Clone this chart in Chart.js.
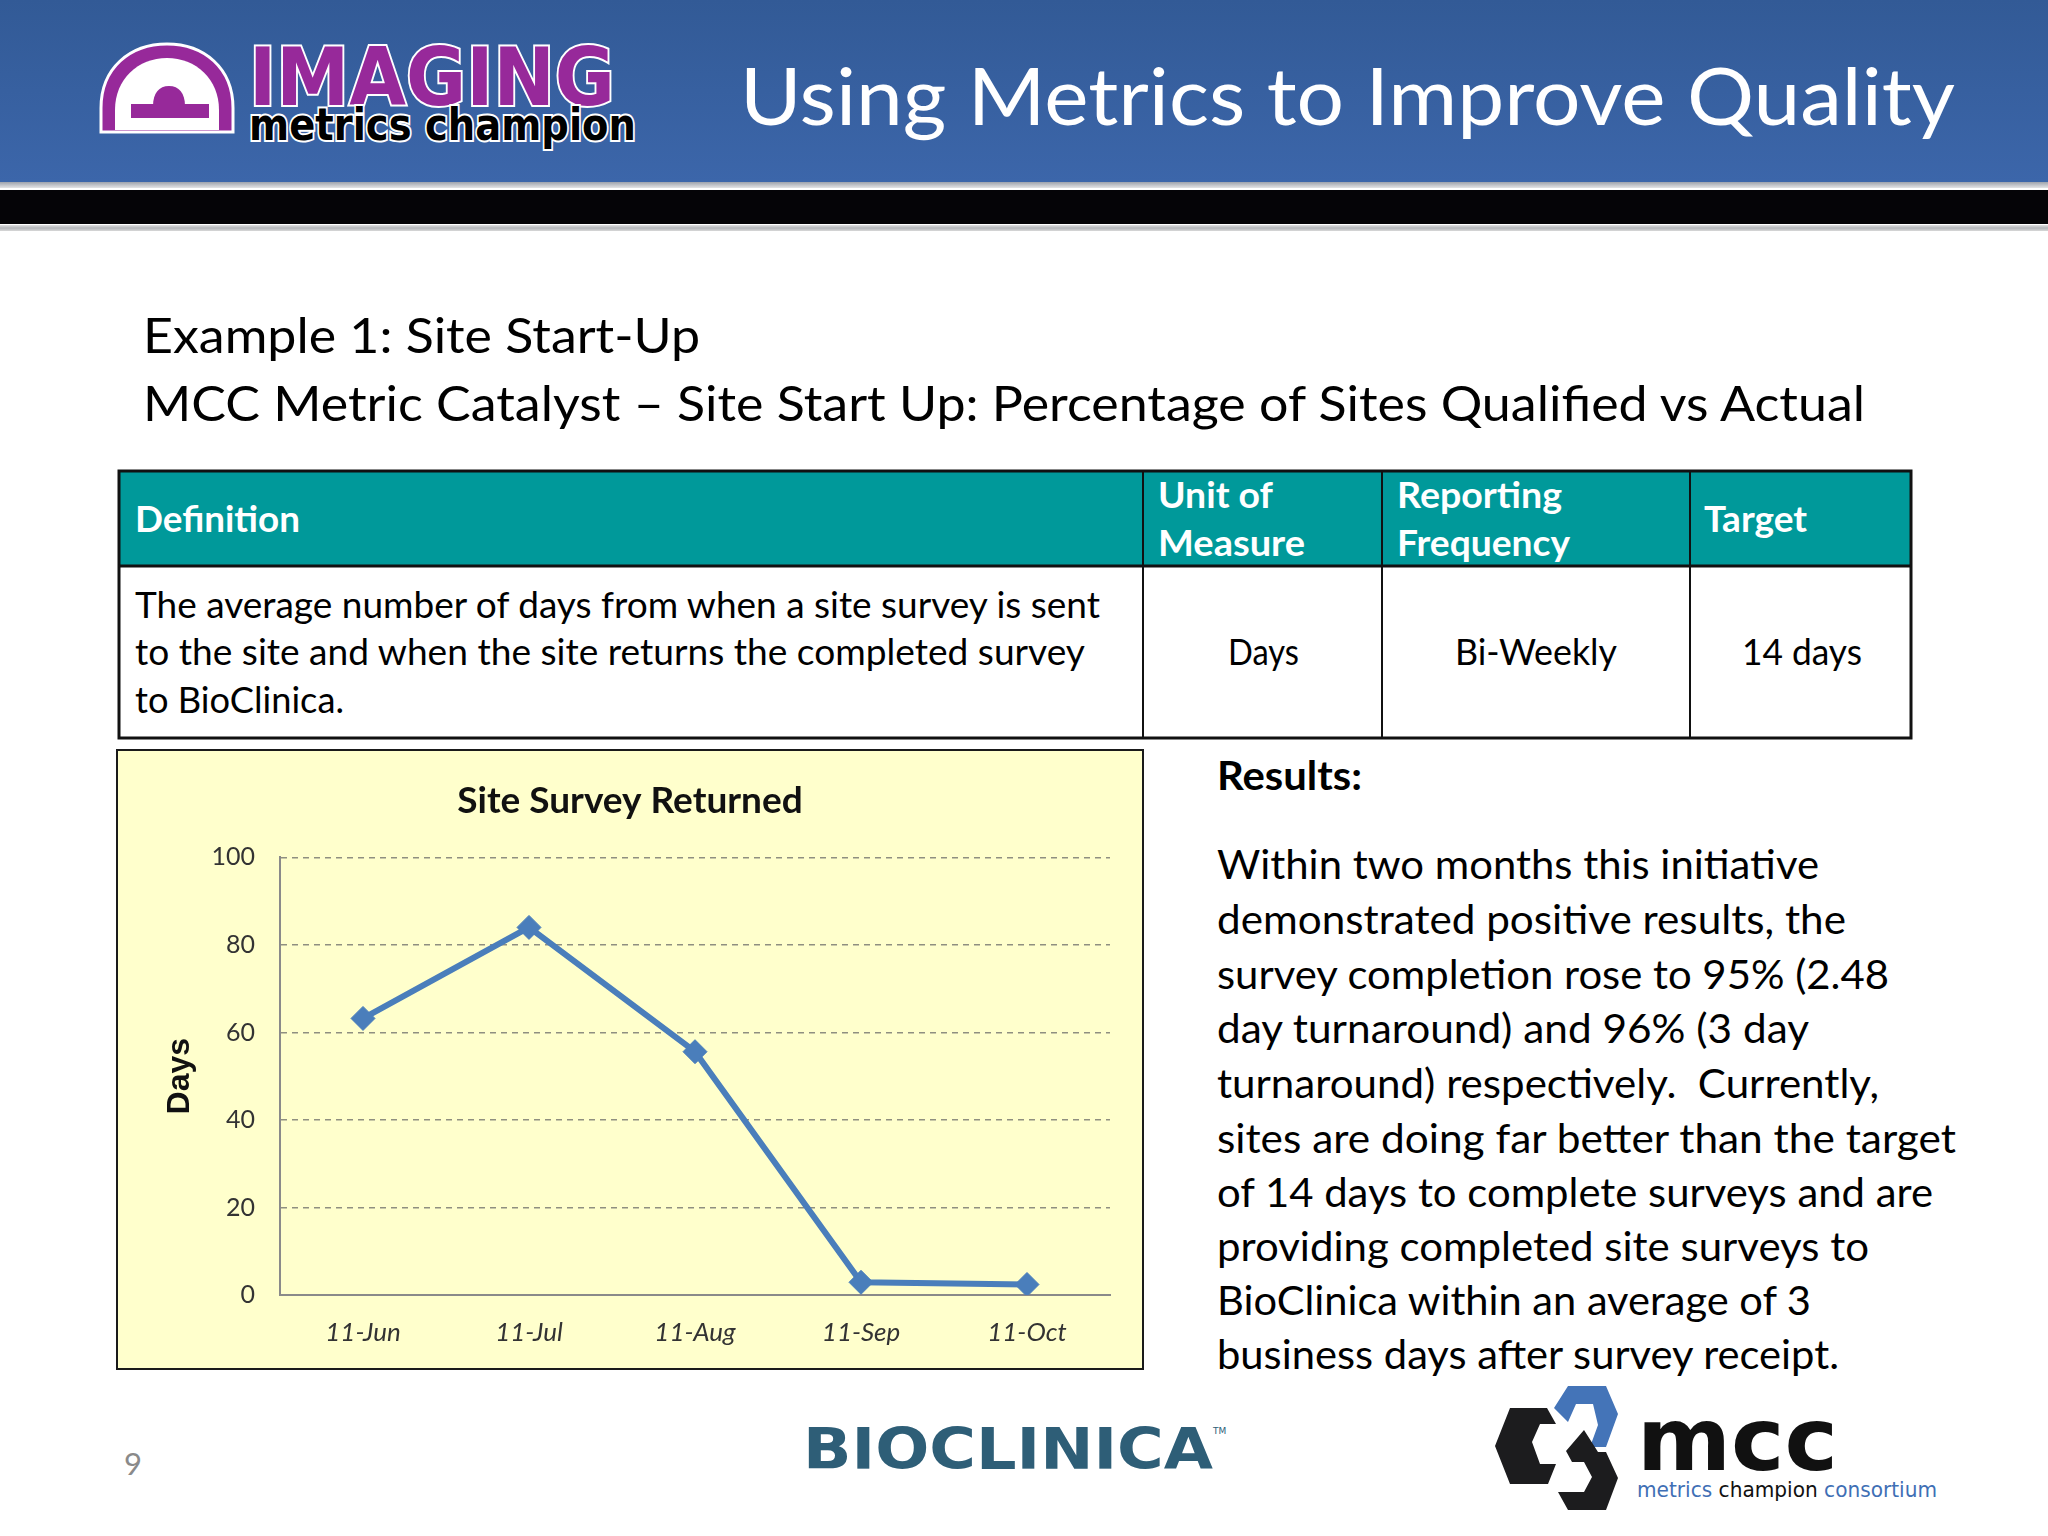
<!DOCTYPE html>
<html>
<head>
<meta charset="utf-8">
<script src="https://cdn.jsdelivr.net/npm/chart.js@4.4.1/dist/chart.umd.min.js"></script>
<style>
  html, body { margin:0; padding:0; background:#ffffff; }
  #page { position:relative; width:2048px; height:1536px; overflow:hidden; background:#ffffff; }
  #deco { position:absolute; left:0; top:0; }
  #chartbox { position:absolute; left:116px; top:749px; width:1028px; height:621px; box-sizing:border-box;
              border:2px solid #1a1a1a; background:#FFFFCC; }
  #chartbox canvas { position:absolute; left:0; top:0; }
</style>
</head>
<body>
<div id="page">
<svg id="deco" width="2048" height="1536" xmlns="http://www.w3.org/2000/svg">
  <defs>
    <linearGradient id="hdr" x1="0" y1="0" x2="0" y2="1">
      <stop offset="0" stop-color="#325a96"/>
      <stop offset="1" stop-color="#3c66aa"/>
    </linearGradient>
    <linearGradient id="gr1" x1="0" y1="0" x2="0" y2="1">
      <stop offset="0" stop-color="#9ea3ad"/>
      <stop offset="1" stop-color="#e4e4e6"/>
    </linearGradient>
    <linearGradient id="gr2" x1="0" y1="0" x2="0" y2="1">
      <stop offset="0" stop-color="#e0e0e0"/>
      <stop offset="0.5" stop-color="#b4b6ba"/>
      <stop offset="1" stop-color="#d8d8d8"/>
    </linearGradient>
  </defs>
  <!-- header -->
  <rect x="0" y="0" width="2048" height="182" fill="url(#hdr)"/>
  <rect x="0" y="182" width="2048" height="6" fill="url(#gr1)"/>
  <rect x="0" y="190" width="2048" height="34" fill="#050407"/>
  <rect x="0" y="225" width="2048" height="6" fill="url(#gr2)"/>

  <!-- imaging logo -->
  <g>
    <path d="M101,132 L101,108 C101,68 130,44 167,44 C204,44 233,68 233,108 L233,132 Z" fill="#97299a" stroke="#ffffff" stroke-width="3"/>
    <path d="M115,130 L115,110 C115,79 138,58 167,58 C196,58 219,79 219,110 L219,130 Z" fill="#ffffff"/>
    <path d="M153,106 C153,93 159,86 169,86 C179,86 185,93 185,106 Z" fill="#97299a"/>
    <rect x="131" y="104" width="78" height="14" fill="#97299a"/>
    <rect x="115" y="122" width="104" height="8" fill="#ffffff"/>
    <text x="249" y="105" font-family="DejaVu Sans" font-weight="bold" font-size="80" fill="#97299a" stroke="#ffffff" stroke-width="4" paint-order="stroke" textLength="366" lengthAdjust="spacingAndGlyphs">IMAGING</text>
    <text x="249" y="140" font-family="DejaVu Sans" font-weight="bold" font-size="45" fill="#000000" stroke="#ffffff" stroke-width="4" paint-order="stroke" textLength="387" lengthAdjust="spacingAndGlyphs">metrics champion</text>
  </g>
  <text x="740" y="125" font-family="Lato" font-size="80" fill="#ffffff" textLength="1215" lengthAdjust="spacingAndGlyphs">Using Metrics to Improve Quality</text>

  <!-- subtitles -->
  <text x="143" y="353" font-family="Lato" font-size="49" fill="#000000" textLength="557" lengthAdjust="spacingAndGlyphs">Example 1: Site Start-Up</text>
  <text x="143" y="421" font-family="Lato" font-size="49" fill="#000000" textLength="1722" lengthAdjust="spacingAndGlyphs">MCC Metric Catalyst – Site Start Up: Percentage of Sites Qualified vs Actual</text>

  <!-- table -->
  <rect x="118" y="470" width="1794" height="96" fill="#00999a"/>
  <rect x="118" y="566" width="1794" height="173" fill="#ffffff"/>
  <g stroke="#111111" fill="none">
    <rect x="119" y="471" width="1792" height="267" stroke-width="3"/>
    <line x1="118" y1="566" x2="1912" y2="566" stroke-width="3"/>
    <line x1="1143" y1="470" x2="1143" y2="739" stroke-width="2"/>
    <line x1="1382" y1="470" x2="1382" y2="739" stroke-width="2"/>
    <line x1="1690" y1="470" x2="1690" y2="739" stroke-width="2"/>
  </g>
  <g font-family="Lato" font-weight="bold" font-size="36" fill="#ffffff">
    <text x="135" y="532" textLength="165" lengthAdjust="spacingAndGlyphs">Definition</text>
    <text x="1158" y="508" textLength="115" lengthAdjust="spacingAndGlyphs">Unit of</text>
    <text x="1158" y="556" textLength="147" lengthAdjust="spacingAndGlyphs">Measure</text>
    <text x="1397" y="508" textLength="165" lengthAdjust="spacingAndGlyphs">Reporting</text>
    <text x="1397" y="556" textLength="173" lengthAdjust="spacingAndGlyphs">Frequency</text>
    <text x="1704" y="532" textLength="103" lengthAdjust="spacingAndGlyphs">Target</text>
  </g>
  <g font-family="Lato" font-size="36" fill="#000000">
    <text x="135" y="618" textLength="965" lengthAdjust="spacingAndGlyphs">The average number of days from when a site survey is sent</text>
    <text x="135" y="665" textLength="950" lengthAdjust="spacingAndGlyphs">to the site and when the site returns the completed survey</text>
    <text x="135" y="713" textLength="209" lengthAdjust="spacingAndGlyphs">to BioClinica.</text>
    <text x="1228" y="665" textLength="71" lengthAdjust="spacingAndGlyphs">Days</text>
    <text x="1455" y="665" textLength="162" lengthAdjust="spacingAndGlyphs">Bi-Weekly</text>
    <text x="1742" y="665" textLength="120" lengthAdjust="spacingAndGlyphs">14 days</text>
  </g>

  <!-- results -->
  <text x="1217" y="790" font-family="Lato" font-weight="bold" font-size="41" fill="#000000" textLength="145" lengthAdjust="spacingAndGlyphs">Results:</text>
  <g font-family="Lato" font-size="41" fill="#000000">
    <text x="1217" y="879" textLength="602" lengthAdjust="spacingAndGlyphs">Within two months this initiative</text>
    <text x="1217" y="934" textLength="629" lengthAdjust="spacingAndGlyphs">demonstrated positive results, the</text>
    <text x="1217" y="989" textLength="672" lengthAdjust="spacingAndGlyphs">survey completion rose to 95% (2.48</text>
    <text x="1217" y="1043" textLength="592" lengthAdjust="spacingAndGlyphs">day turnaround) and 96% (3 day</text>
    <text x="1217" y="1098" textLength="662" lengthAdjust="spacingAndGlyphs" xml:space="preserve">turnaround) respectively.  Currently,</text>
    <text x="1217" y="1153" textLength="739" lengthAdjust="spacingAndGlyphs">sites are doing far better than the target</text>
    <text x="1217" y="1207" textLength="716" lengthAdjust="spacingAndGlyphs">of 14 days to complete surveys and are</text>
    <text x="1217" y="1261" textLength="652" lengthAdjust="spacingAndGlyphs">providing completed site surveys to</text>
    <text x="1217" y="1315" textLength="594" lengthAdjust="spacingAndGlyphs">BioClinica within an average of 3</text>
    <text x="1217" y="1369" textLength="622" lengthAdjust="spacingAndGlyphs">business days after survey receipt.</text>
  </g>

  <!-- footer -->
  <text x="124" y="1475" font-family="Lato" font-size="31" fill="#8a8a8a">9</text>
  <text x="803" y="1469" font-family="DejaVu Sans" font-weight="bold" font-size="57" fill="#2e5e77" textLength="410" lengthAdjust="spacingAndGlyphs">BIOCLINICA</text>
  <text x="1213" y="1434" font-family="DejaVu Sans" font-size="9" fill="#2e5e77">TM</text>

  <!-- mcc logo -->
  <g>
    <path d="M1568,1386 L1606,1386 L1618,1414 L1606,1447 L1590,1447 L1598,1425 L1593,1404 L1576,1404 L1568,1422 L1554,1408 Z" fill="#4474b8"/>
    <path d="M1510,1408 L1547,1408 L1556,1424 L1540,1424 L1532,1442 L1540,1464 L1556,1464 L1548,1484 L1510,1484 L1495,1446 Z" fill="#1c1c1e"/>
    <path d="M1566,1451 L1584,1430 L1598,1452 L1606,1452 L1618,1478 L1606,1510 L1568,1510 L1558,1492 L1584,1492 L1592,1477 L1584,1462 L1572,1462 Z" fill="#1c1c1e"/>
    <text x="1637" y="1470" font-family="DejaVu Sans" font-weight="bold" font-size="88" fill="#111111" textLength="201" lengthAdjust="spacingAndGlyphs">mcc</text>
    <text x="1637" y="1497" font-family="DejaVu Sans" font-size="22" textLength="300" lengthAdjust="spacingAndGlyphs"><tspan fill="#3f6fb5">metrics </tspan><tspan fill="#111111">champion </tspan><tspan fill="#3f6fb5">consortium</tspan></text>
  </g>
</svg>

<div id="chartbox"><canvas id="c" width="1024" height="617"></canvas></div>
</div>

<script>
// ---- chart data ----
const categories = ['11-Jun', '11-Jul', '11-Aug', '11-Sep', '11-Oct'];
const daysReturned = [63.2, 84.0, 55.6, 2.9, 2.4];
const yTickValues = [0, 20, 40, 60, 80, 100];
const chartTitle = 'Site Survey Returned';
const yAxisTitle = 'Days';

function drawChart() {
  const ctx = document.getElementById('c').getContext('2d');
  new Chart(ctx, {
    type: 'line',
    data: {
      labels: categories,
      datasets: [{
        data: daysReturned,
        borderColor: '#4a7ebb',
        backgroundColor: '#4a7ebb',
        borderWidth: 6,
        tension: 0,
        fill: false,
        pointStyle: 'rectRot',
        pointRadius: 12,
        pointBorderWidth: 1,
        pointBorderColor: '#4a7ebb',
        pointBackgroundColor: '#4a7ebb'
      }]
    },
    options: {
      responsive: false,
      animation: false,
      devicePixelRatio: 1,
      layout: { padding: { top: 28, right: 32, bottom: 0, left: 32 } },
      plugins: {
        legend: { display: false },
        tooltip: { enabled: false },
        title: {
          display: true, text: chartTitle, color: '#111111',
          font: { family: 'Lato', size: 37, weight: 'bold', lineHeight: 1.2 },
          padding: { top: 0, bottom: 34 }
        }
      },
      scales: {
        x: {
          type: 'category',
          offset: true,
          grid: { display: false, drawTicks: false },
          border: { display: true, color: '#8a8a8a', width: 2 },
          ticks: { padding: 22, color: '#333333', maxRotation: 0,
                   font: { family: 'Lato', size: 26, style: 'italic', lineHeight: 1.2 } },
          afterFit: (s) => { s.height = 73; }
        },
        y: {
          min: yTickValues[0],
          max: yTickValues[yTickValues.length - 1],
          afterBuildTicks: (s) => { s.ticks = yTickValues.map(v => ({ value: v })); },
          grid: { color: '#8f8f80', lineWidth: 1.5, drawTicks: false },
          border: { display: true, color: '#8a8a8a', width: 2, dash: [6, 5] },
          ticks: { padding: 25, color: '#333333', font: { family: 'Lato', size: 25 } },
          title: {
            display: true, text: yAxisTitle, color: '#111111',
            font: { family: 'Liberation Sans', size: 32, weight: 'bold', lineHeight: 1.2 },
            padding: { top: 11, bottom: 0 }
          },
          afterFit: (s) => { s.width = 130; }
        }
      }
    }
  });
}

const fontLoads = [
  'bold 37px Lato', '26px Lato', 'italic 26px Lato', '25px Lato', 'bold 32px "Liberation Sans"'
].map(f => document.fonts.load(f).catch(() => null));
Promise.all(fontLoads).then(drawChart, drawChart);
</script>
</body>
</html>
